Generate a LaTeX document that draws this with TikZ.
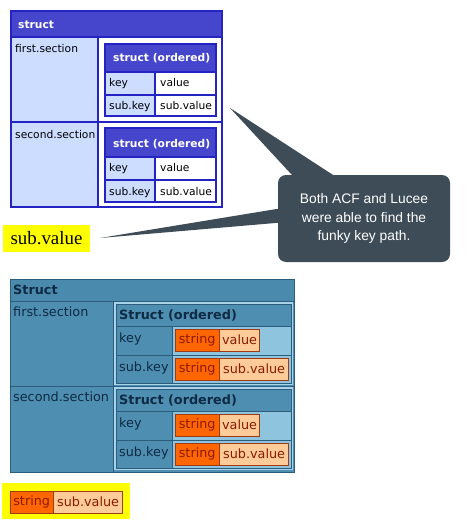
\documentclass[tikz,border=0pt]{standalone}
\usepackage{fontspec}
\setmainfont{DejaVu Sans}
\newfontfamily\notefont{Liberation Sans}
\newfontfamily\seriffont{Liberation Serif}
\usepackage{tikz}
\usetikzlibrary{calc,positioning}
\definecolor{dumpBlue}{HTML}{2424C4}
\definecolor{dumpHead}{HTML}{4646CC}
\definecolor{dumpPale}{HTML}{CCDDFF}
\definecolor{luceeEdge}{HTML}{2D5D7C}
\definecolor{luceeBody}{HTML}{4E8EB0}
\definecolor{luceeHead}{HTML}{4A8AAC}
\definecolor{luceeLight}{HTML}{8EC4DE}
\definecolor{luceeFrame}{HTML}{A9D3E9}
\definecolor{luceeText}{HTML}{0F2A44}
\definecolor{strOrange}{HTML}{FF6600}
\definecolor{strPeach}{HTML}{FFCC99}
\definecolor{strRed}{HTML}{8B1A00}
\definecolor{strEdge}{HTML}{A03A10}
\definecolor{noteFill}{HTML}{3E4C57}
\definecolor{markYellow}{HTML}{FFFF00}

\begin{document}
\begin{tikzpicture}[x=1pt,y=-1pt,
  cftxt/.style={inner sep=0pt,anchor=base west,font=\fontsize{10.7}{12}\selectfont},
  cfhead/.style={cftxt,text=white,font=\fontsize{10.7}{12}\selectfont\bfseries},
  lutxt/.style={inner sep=0pt,anchor=base west,text=luceeText,font=\fontsize{12.8}{14}\selectfont},
  luhead/.style={lutxt,font=\fontsize{12.8}{14}\selectfont\bfseries},
  strbox/.style={draw=strEdge,fill=strOrange,text=strRed,inner sep=0pt,anchor=north west,
    minimum height=21.5,font=\fontsize{12.8}{14}\selectfont},
  valbox/.style={strbox,fill=strPeach}]
\useasboundingbox (0,0) rectangle (474,524);
% cfdump (ACF)
\fill[dumpBlue] (10,10) rectangle (223,208);
\fill[dumpHead] (12,12) rectangle (221,36);
\fill[dumpPale] (12,38) rectangle (97,121);
\fill[white] (99,38) rectangle (221,121);
\fill[dumpPale] (12,123) rectangle (97,206);
\fill[white] (99,123) rectangle (221,206);
\fill[dumpBlue] (104,43) rectangle (217,117);
\fill[dumpHead] (106,45) rectangle (215,71);
\fill[dumpPale] (106,73) rectangle (154,94);
\fill[white] (156,73) rectangle (215,94);
\fill[dumpPale] (106,96) rectangle (154,115);
\fill[white] (156,96) rectangle (215,115);
\fill[dumpBlue] (104,127) rectangle (217,203);
\fill[dumpHead] (106,129) rectangle (215,156);
\fill[dumpPale] (106,158) rectangle (154,179);
\fill[white] (156,158) rectangle (215,179);
\fill[dumpPale] (106,181) rectangle (154,201);
\fill[white] (156,181) rectangle (215,201);
\node[cfhead] (cfTitle) at (18,29) {struct};
\node[cftxt] (cfSec1) at (15,53) {first.section};
\node[cftxt] (cfSec2) at (15,138) {second.section};
\node[cfhead] (cfOrd1) at (113,62) {struct (ordered)};
\node[cftxt] (cfKey1) at (109,87) {key};
\node[cftxt] (cfVal1) at (160,87) {value};
\node[cftxt] (cfSubKey1) at (109,110) {sub.key};
\node[cftxt] (cfSubVal1) at (160,110) {sub.value};
\node[cfhead] (cfOrd2) at (113,147) {struct (ordered)};
\node[cftxt] (cfKey2) at (109,171) {key};
\node[cftxt] (cfVal2) at (160,171) {value};
\node[cftxt] (cfSubKey2) at (109,195) {sub.key};
\node[cftxt] (cfSubVal2) at (160,195) {sub.value};
% result of the ACF lookup
\node[fill=markYellow,minimum width=87,minimum height=27,inner sep=0pt,
  font=\seriffont\fontsize{18.9}{20}\selectfont] (found) at (46.5,238.5) {sub.value};
% callout
\node[fill=noteFill,rounded corners=8pt,minimum width=172,minimum height=87,align=center,
  text=white,font=\notefont\fontsize{13.8}{18.3}\selectfont] (note) at (364,218.5)
  {Both ACF and Lucee\\were able to find the\\funky key path.};
\coordinate (tipDump) at (230,108);
\coordinate (tipFound) at (100,238);
\fill[noteFill] (tipDump) -- ($(note.north west)+(14,0)$) -- ($(note.north west)+(55,0)$) -- cycle;
\fill[noteFill] (tipFound) -- ($(note.north west)+(0,34)$) -- ($(note.north west)+(0,48)$) -- cycle;
% Lucee dump
\fill[luceeBody] (10,279) rectangle (294,472);
\fill[luceeHead] (10,279) rectangle (294,301);
\draw[luceeEdge] (10,279) rectangle (294,472);
\draw[luceeEdge] (10,301) -- (294,301);
\draw[luceeEdge] (113,301) -- (113,472);
\draw[luceeEdge] (10,386) -- (294,386);
\fill[luceeFrame] (114,302) rectangle (293,385);
\fill[luceeBody] (116,304) rectangle (291,383);
\fill[luceeLight] (172,326) rectangle (291,383);
\draw[luceeEdge] (116,304) rectangle (291,383);
\draw[luceeEdge] (116,326) -- (291,326);
\draw[luceeEdge] (116,355) -- (291,355);
\draw[luceeEdge] (172,326) -- (172,383);
\fill[luceeFrame] (114,387) rectangle (293,470);
\fill[luceeBody] (116,389) rectangle (291,468);
\fill[luceeLight] (172,411) rectangle (291,468);
\draw[luceeEdge] (116,389) rectangle (291,468);
\draw[luceeEdge] (116,411) -- (291,411);
\draw[luceeEdge] (116,440) -- (291,440);
\draw[luceeEdge] (172,411) -- (172,468);
\node[luhead] (luTitle) at (13,294) {Struct};
\node[lutxt] (luSec1) at (13,316) {first.section};
\node[lutxt] (luSec2) at (13,401) {second.section};
\node[luhead] (luOrd1) at (119,319) {Struct (ordered)};
\node[lutxt] (luKey1) at (119,342) {key};
\node[lutxt] (luSubKey1) at (119,371) {sub.key};
\node[luhead] (luOrd2) at (119,404) {Struct (ordered)};
\node[lutxt] (luKey2) at (119,427) {key};
\node[lutxt] (luSubKey2) at (119,456) {sub.key};
\node[strbox,minimum width=44] (luStr1) at (175,329) {string};
\node[valbox,minimum width=40] (luVal1) at (luStr1.north east) {value};
\node[strbox,minimum width=44] (luStr2) at (175,358) {string};
\node[valbox,minimum width=69] (luVal2) at (luStr2.north east) {sub.value};
\node[strbox,minimum width=44] (luStr3) at (175,414) {string};
\node[valbox,minimum width=40] (luVal3) at (luStr3.north east) {value};
\node[strbox,minimum width=44] (luStr4) at (175,443) {string};
\node[valbox,minimum width=69] (luVal4) at (luStr4.north east) {sub.value};
% result of the Lucee lookup
\fill[markYellow] (2,483) rectangle (130,519);
\node[strbox,minimum width=43] (resStr) at (10,491) {string};
\node[valbox,minimum width=69] (resVal) at (resStr.north east) {sub.value};
\end{tikzpicture}
\end{document}
